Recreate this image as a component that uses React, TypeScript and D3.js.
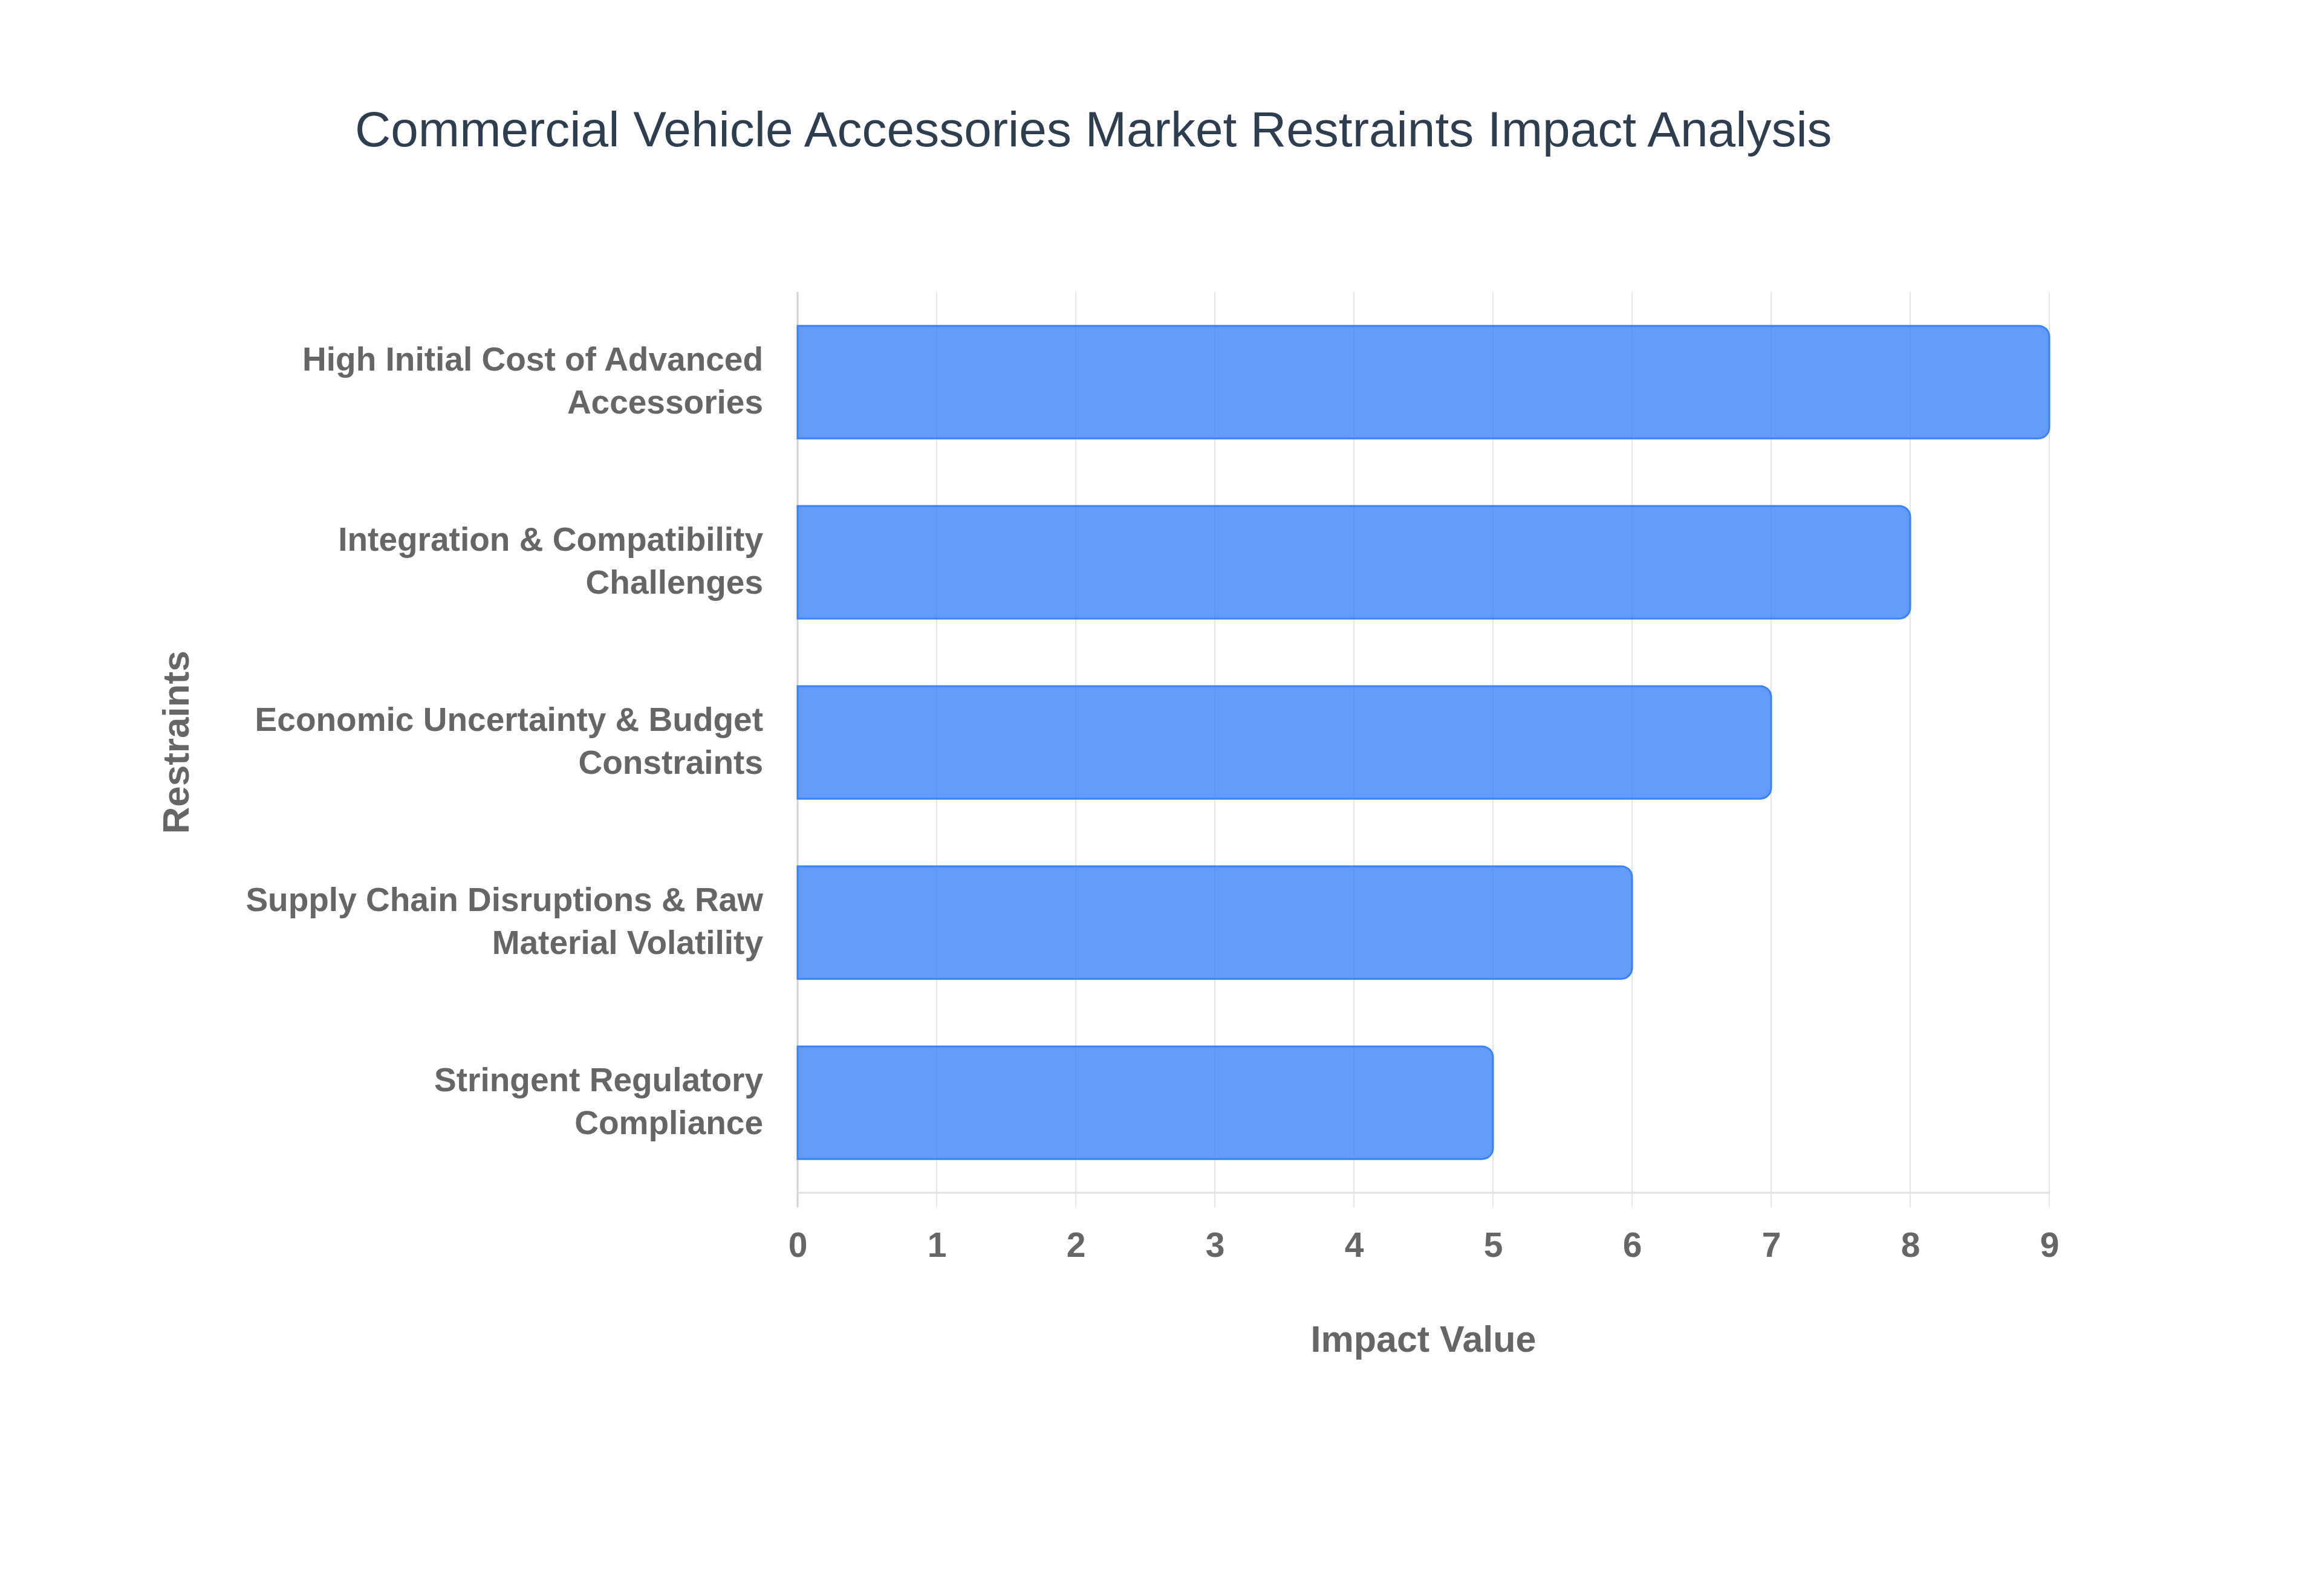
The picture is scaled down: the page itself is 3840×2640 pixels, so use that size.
import React, { useEffect, useRef } from 'react';
import * as d3 from 'd3';

// restraint categories, top to bottom, with the line breaks used on the axis
const restraintLabels: string[][] = [
  ['High Initial Cost of Advanced', 'Accessories'],
  ['Integration & Compatibility', 'Challenges'],
  ['Economic Uncertainty & Budget', 'Constraints'],
  ['Supply Chain Disruptions & Raw', 'Material Volatility'],
  ['Stringent Regulatory', 'Compliance'],
];
const restraints = restraintLabels.map(l => l.join(' '));
const impactValues = [9, 8, 7, 6, 5];
const xTicks = [0, 1, 2, 3, 4, 5, 6, 7, 8, 9];

const chartTitle = 'Commercial Vehicle Accessories Market Restraints Impact Analysis';
const xTitle = 'Impact Value';
const yTitle = 'Restraints';

const sizing = {
  width: 3840,
  height: 2640,
  left: 1319,
  right: 3389,
  top: 483,
  bottom: 1973,
};

const textStyle = {
  font: '"Liberation Sans", Arial, Helvetica, sans-serif',
  color: '#666666',
  titleColor: '#2c3e50',
};

export default function App() {
  const ref = useRef<SVGSVGElement>(null);

  useEffect(() => {
    if (!ref.current) return;
    const svg = d3.select(ref.current);
    svg.selectAll('*').remove();

    const xScale = d3.scaleLinear().domain([0, 9]).range([sizing.left, sizing.right]);
    const yScale = d3.scaleBand<string>()
      .domain(restraints)
      .range([sizing.top, sizing.bottom])
      .paddingInner(0.375)
      .paddingOuter(0.1875);

    svg.append('rect')
      .attr('width', sizing.width)
      .attr('height', sizing.height)
      .attr('fill', '#ffffff');

    // title
    svg.append('text')
      .attr('x', 587)
      .attr('y', 242)
      .attr('font-family', textStyle.font)
      .attr('font-size', 82)
      .attr('fill', textStyle.titleColor)
      .text(chartTitle);

    // vertical grid lines with tick marks below the baseline
    svg.append('g')
      .selectAll('line')
      .data(xTicks)
      .join('line')
      .attr('x1', d => xScale(d))
      .attr('x2', d => xScale(d))
      .attr('y1', sizing.top)
      .attr('y2', sizing.bottom + 24)
      .attr('stroke', d => (d === 0 ? '#d4d4d4' : '#e6e6e6'))
      .attr('stroke-width', d => (d === 0 ? 3 : 2));

    // baseline
    svg.append('line')
      .attr('x1', sizing.left)
      .attr('x2', sizing.right)
      .attr('y1', sizing.bottom)
      .attr('y2', sizing.bottom)
      .attr('stroke', '#e0e0e0')
      .attr('stroke-width', 3);

    // bars, rounded on the right end
    const r = 18;
    const barPath = (v: number, cat: string): string => {
      const x0 = xScale(0);
      const x1 = xScale(v);
      const y0 = yScale(cat) as number;
      const h = yScale.bandwidth();
      return `M${x0},${y0}H${x1 - r}A${r},${r} 0 0 1 ${x1},${y0 + r}V${y0 + h - r}` +
        `A${r},${r} 0 0 1 ${x1 - r},${y0 + h}H${x0}Z`;
    };

    svg.append('g')
      .selectAll('path')
      .data(impactValues)
      .join('path')
      .attr('d', (d, i) => barPath(d, restraints[i]))
      .attr('fill', '#3b82f6')
      .attr('fill-opacity', 0.8)
      .attr('stroke', '#3b82f6')
      .attr('stroke-width', 3);

    // x tick labels
    const xAxis = svg.append('g')
      .attr('transform', `translate(0, ${sizing.bottom})`)
      .call(d3.axisBottom(xScale).tickValues(xTicks).tickFormat(d => `${d}`).tickSize(0).tickPadding(0));
    xAxis.select('.domain').remove();
    xAxis.selectAll('text')
      .attr('dy', null)
      .attr('y', 106)
      .attr('font-family', textStyle.font)
      .attr('font-weight', 'bold')
      .attr('font-size', 57)
      .attr('fill', textStyle.color);

    // y category labels (two lines each)
    const labels = svg.append('g')
      .selectAll('text')
      .data(restraintLabels)
      .join('text')
      .attr('text-anchor', 'end')
      .attr('font-family', textStyle.font)
      .attr('font-weight', 'bold')
      .attr('font-size', 55)
      .attr('fill', textStyle.color);
    labels.each(function (lines, i) {
      const cy = (yScale(restraints[i]) as number) + yScale.bandwidth() / 2;
      d3.select(this)
        .selectAll('tspan')
        .data(lines)
        .join('tspan')
        .attr('x', 1262)
        .attr('y', (_, j) => cy - 19 + j * 71);
    });
    labels.selectAll('tspan').text(d => d as string);

    // axis titles
    svg.append('text')
      .attr('x', (sizing.left + sizing.right) / 2)
      .attr('y', 2236)
      .attr('text-anchor', 'middle')
      .attr('font-family', textStyle.font)
      .attr('font-weight', 'bold')
      .attr('font-size', 61)
      .attr('fill', textStyle.color)
      .text(xTitle);

    svg.append('text')
      .attr('transform', `translate(312, ${(sizing.top + sizing.bottom) / 2}) rotate(-90)`)
      .attr('text-anchor', 'middle')
      .attr('font-family', textStyle.font)
      .attr('font-weight', 'bold')
      .attr('font-size', 62)
      .attr('fill', textStyle.color)
      .text(yTitle);
  }, []);

  return (
    <svg
      ref={ref}
      width={sizing.width}
      height={sizing.height}
      style={{ position: 'absolute', left: 0, top: 0, display: 'block' }}
    />
  );
}
